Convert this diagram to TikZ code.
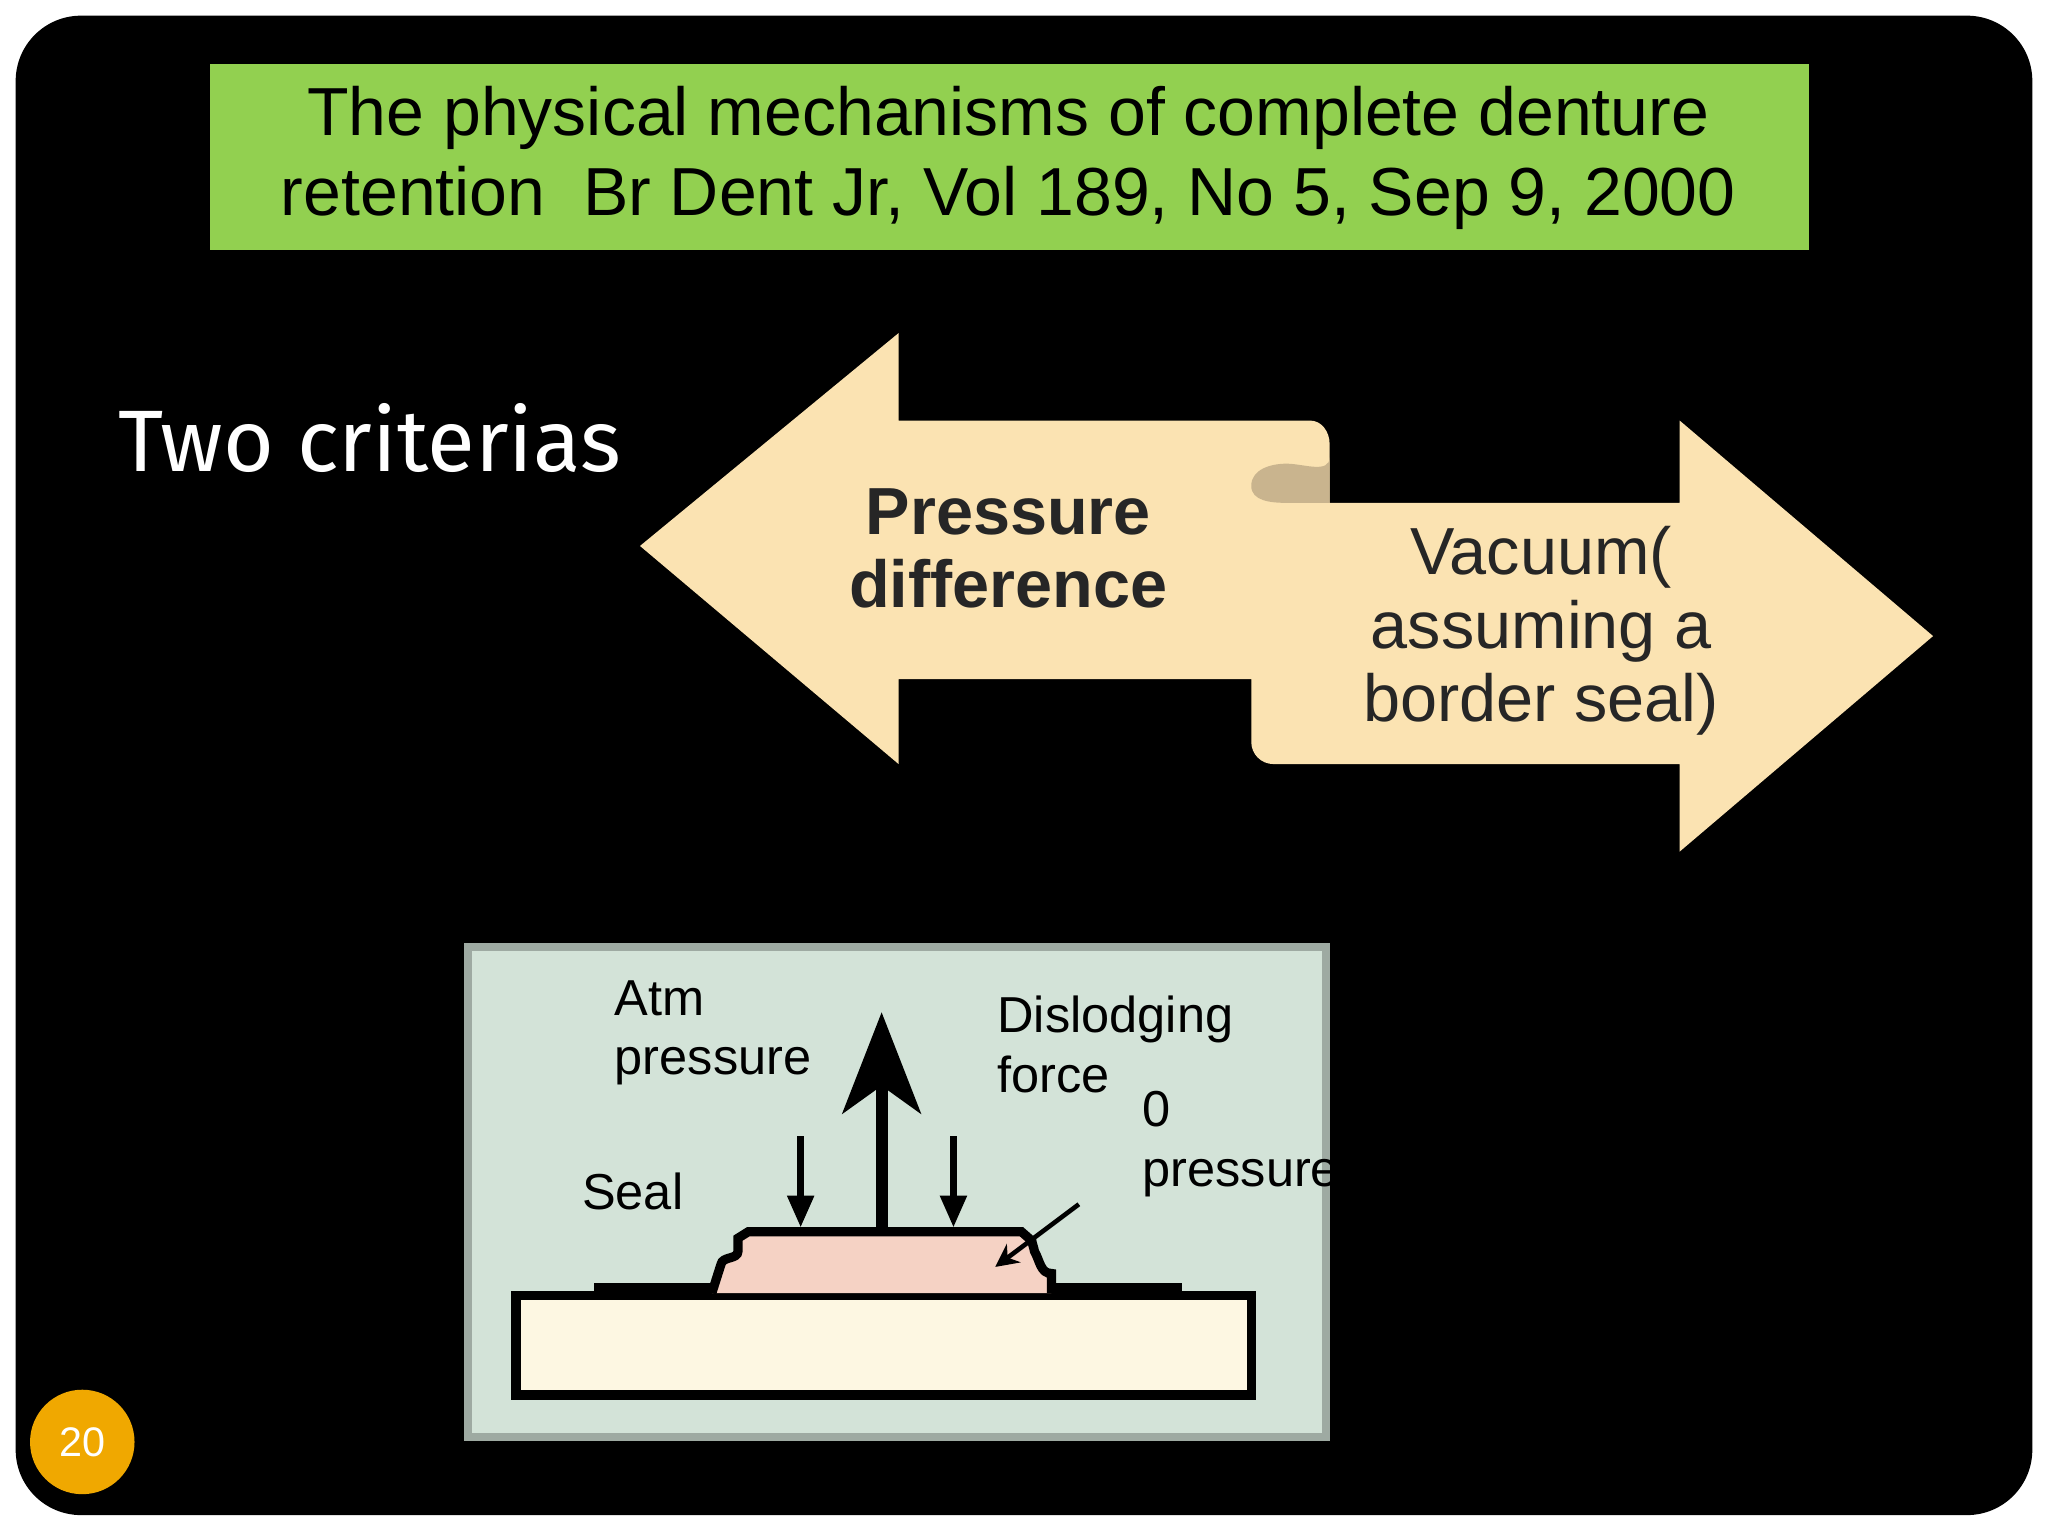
\documentclass[tikz,border=0pt]{standalone}
\usepackage{fontspec}
\setmainfont{Liberation Sans}
\newfontfamily\hand{Fira Sans}
\usetikzlibrary{arrows.meta}
\definecolor{bannergreen}{HTML}{92D050}
\definecolor{scroll}{HTML}{FBE3B2}
\definecolor{curl}{HTML}{C9B48E}
\definecolor{panel}{HTML}{D3E3D8}
\definecolor{cream}{HTML}{FDF7E2}
\definecolor{pink}{HTML}{F5D2C4}
\definecolor{orangec}{HTML}{F0A800}
\begin{document}
\begin{tikzpicture}[x=0.01cm,y=-0.01cm,
  lab/.style={font=\fontsize{11}{13}\selectfont,align=left,anchor=north west,inner sep=0pt},
  big/.style={font=\fontsize{14.5}{16}\selectfont,align=center,text=black!85},
  sarrow/.style={-{Triangle[length=7pt,width=5.5pt]},line width=1.6pt}]
\useasboundingbox (0,0) rectangle (1568,1176);
\fill[white] (0,0) rectangle (1568,1176);
\fill[black,rounded corners=0.5cm] (12,12) rectangle (1556,1160);
% banner
\node[fill=bannergreen,minimum width=1224*0.01cm,minimum height=143*0.01cm,anchor=north west,inner sep=0pt] (banner) at (160,48) {};
\node[align=center,font=\fontsize{14.8}{17.5}\selectfont] (title) at (772,121) {The physical mechanisms of complete denture\\retention\ \ Br Dent Jr, Vol 189, No 5, Sep 9, 2000};
\node[text=white,font=\hand\fontsize{19}{20}\selectfont,anchor=west] (two) at (78,335) {Two criterias};
% double arrow
\fill[scroll] (490,418) -- (688,255) -- (688,322) -- (1003,322) to[out=0,in=90] (1018,340) -- (1018,385) -- (1286,385) -- (1286,322) -- (1480,487) -- (1286,652) -- (1286,585) -- (975,585) to[out=180,in=-90] (958,568) -- (958,520) -- (688,520) -- (688,585) -- cycle;
\fill[curl] (1018,350) to[out=-90,in=0] (985,355) to[out=180,in=90] (958,372) to[out=-90,in=180] (985,385) -- (1018,385) -- cycle;
\node[big] (pd) at (772,420) {\textbf{Pressure}\\\textbf{difference}};
\node[big] (vac) at (1180,483) {Vacuum(\\assuming a\\border seal)};
% panel
\fill[panel!75!black] (355,722) rectangle (1018,1103);
\fill[panel] (361,728) rectangle (1012,1097);
\fill[cream,draw=black,line width=2pt] (395,992) rectangle (958,1068);
\draw[line width=2.5pt] (455,987) -- (905,987);
\fill[pink,draw=black,line width=2pt] (545,990) -- (552,968) to[out=80,in=-90] (565,958) -- (565,948) -- (573,943) -- (782,943) -- (790,950) to[out=-80,in=100] (792,958) to[out=-60,in=180] (805,975) -- (805,990);
\coordinate (bt) at (675,943);
\coordinate (tp) at (675,775);
\draw[-{Stealth[length=22pt,width=17pt,inset=6pt]},line width=2.6pt] (bt) -- (tp);
\coordinate (a1) at (613,870); \coordinate (a1e) at (613,940);
\coordinate (a2) at (730,870); \coordinate (a2e) at (730,940);
\draw[sarrow] (a1) -- (a1e);
\draw[sarrow] (a2) -- (a2e);
\coordinate (p0) at (826,922); \coordinate (p1) at (762,970);
\draw[-{Stealth[length=5pt,width=5pt]},line width=1pt] (p0) -- (p1);
\node[lab] (atm) at (470,750) {Atm\\pressure};
\node[lab] (dis) at (763,762) {Dislodging\\force};
\node[lab] (zero) at (874,835) {0\\pressure};
\node[lab] (seal) at (445,897) {Seal};
% page number
\fill[orangec] (63,1104) circle (40);
\node[text=white,font=\fontsize{9}{10}\selectfont] (num) at (63,1104) {20};
\end{tikzpicture}
\end{document}
